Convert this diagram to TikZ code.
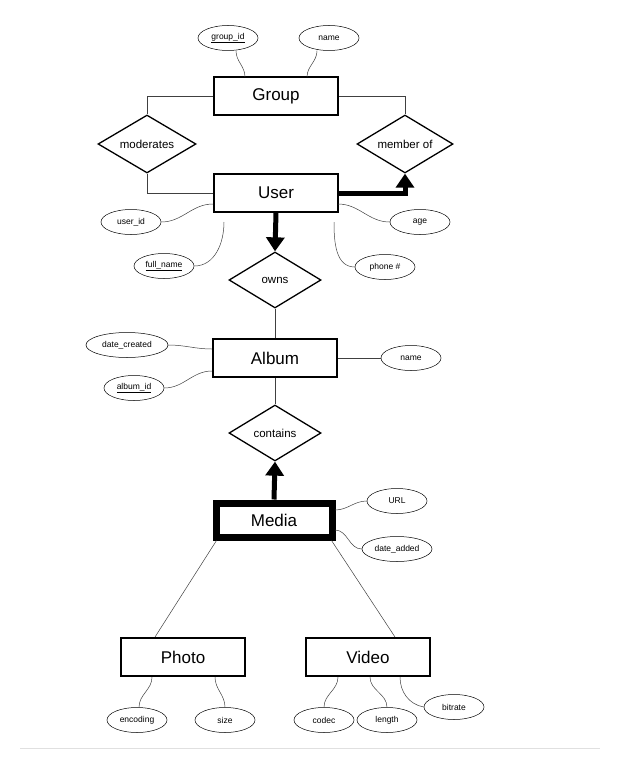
\documentclass[tikz,border=0pt]{standalone}
\usepackage{fontspec}
\setmainfont{Liberation Sans}
\usetikzlibrary{shapes.geometric,arrows.meta}
\begin{document}
\begin{tikzpicture}[x=1pt,y=-1pt,
  ent/.style={draw,line width=1.6pt,minimum width=124pt,minimum height=38pt,font=\fontsize{17}{20}\selectfont,inner sep=0},
  rel/.style={draw,diamond,aspect=1.7,line width=1.3pt,minimum width=96pt,minimum height=58pt,inner sep=0,font=\fontsize{11.5}{13}\selectfont},
  att/.style={draw,ellipse,line width=0.5pt,minimum width=60pt,minimum height=25pt,inner sep=0,font=\fontsize{8.5}{10}\selectfont},
  ln/.style={line width=0.5pt,draw=black!75},
  thk/.style={line width=5pt,-{Triangle[length=14pt,width=18pt]}}]
\useasboundingbox (0,0) rectangle (642,776);
\draw[black!12,line width=0.8pt] (20,748) -- (600,748);
% entities
\node[ent] (group) at (276,96) {Group};
\node[ent] (user) at (276,193) {User};
\node[ent] (album) at (275,358) {Album};
\node[ent,line width=7pt,minimum width=116pt,minimum height=34pt] (media) at (274,520) {Media};
\node[ent] (photo) at (183,657) {Photo};
\node[ent] (video) at (368,657) {Video};
% relationships
\node[rel,minimum width=98pt] (mod) at (147,144) {moderates};
\node[rel] (mem) at (405,144) {member of};
\node[rel,minimum width=92pt,minimum height=56pt] (owns) at (275,280) {owns};
\node[rel,minimum width=92pt,minimum height=56pt] (cont) at (275,433) {contains};
% attributes
\node[att] (gid) at (228,38) {\underline{group\_id}};
\node[att] (gname) at (329,38) {name};
\node[att] (uid) at (131,222) {user\_id};
\node[att] (fname) at (164,266) {\underline{full\_name}};
\node[att] (age) at (420,222) {age};
\node[att] (phone) at (385,267) {phone \#};
\node[att,minimum width=82pt] (dc) at (127,345) {date\_created};
\node[att] (aid) at (134,388) {\underline{album\_id}};
\node[att] (aname) at (411,358) {name};
\node[att] (url) at (397,501) {URL};
\node[att,minimum width=70pt] (da) at (397,549) {date\_added};
\node[att] (enc) at (137,720) {encoding};
\node[att] (size) at (225,720) {size};
\node[att] (codec) at (324,720) {codec};
\node[att] (len) at (387,720) {length};
\node[att] (bit) at (454,707) {bitrate};
% relationship connectors
\draw[ln] (group.west) -| (mod.north);
\draw[ln] (group.east) -| (mem.north);
\draw[ln] (mod.south) |- (user.west);
\draw[ln] (owns.south) -- (album.north);
\draw[ln] (album.south) -- (cont.north);
\draw[ln] (media.south west) ++(4,0) coordinate (m1);
\draw[ln] (m1) -- (155,637) coordinate (p1);
\draw[ln] (media.south east) ++(-4,0) coordinate (m2);
\draw[ln] (m2) -- (395,637) coordinate (v1);
\draw[thk] (user.east) -| (mem.south);
\draw[thk] (user.south) -- (owns.north);
\draw[thk] (media.north) -- (cont.south);
% attribute connectors
\draw[ln] (gid.south) ++(8,0) coordinate (g1) to[out=-90,in=90] (245,77);
\draw[ln] (gname.south) ++(-12,0) coordinate (g2) to[out=-90,in=90] (307,77);
\draw[ln] (uid.east) to[out=0,in=180] (213,204);
\draw[ln] (fname.east) to[out=0,in=-90] (224,222);
\draw[ln] (age.west) to[out=180,in=0] (338,204);
\draw[ln] (phone.west) to[out=180,in=-90] (334,222);
\draw[ln] (dc.east) to[out=0,in=180] (212,349);
\draw[ln] (aid.east) to[out=0,in=180] (212,371);
\draw[ln] (aname.west) -- (album.east);
\draw[ln] (url.west) to[out=180,in=0] (335,510);
\draw[ln] (da.west) to[out=180,in=0] (335,530);
\draw[ln] (enc.north) ++(2,0) coordinate (e1) to[out=90,in=-90] (152,677);
\draw[ln] (size.north) ++(0,0) coordinate (s1) to[out=90,in=-90] (215,677);
\draw[ln] (codec.north) coordinate (c1) to[out=90,in=-90] (338,677);
\draw[ln] (len.north) coordinate (l1) to[out=90,in=-90] (370,677);
\draw[ln] (bit.west) to[out=170,in=-90] (400,677);
\end{tikzpicture}
\end{document}
